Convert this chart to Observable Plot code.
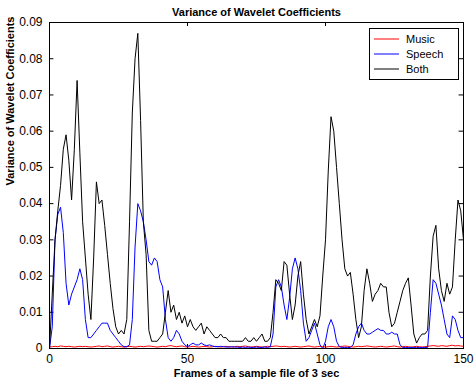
<!DOCTYPE html>
<html>
<head>
<meta charset="utf-8">
<script src="https://cdn.jsdelivr.net/npm/d3@7"></script>
<script src="https://cdn.jsdelivr.net/npm/@observablehq/plot@0.6"></script>
<style>
  html, body { margin: 0; padding: 0; background: #fff; }
  #wrap { position: relative; width: 474px; height: 392px; font-family: "Liberation Sans", Arial, sans-serif; }
  #legend { position: absolute; left: 369px; top: 28px; width: 88px; height: 50px; border: 1px solid #000; background: #fff; }
  #legend svg { display: block; }
</style>
</head>
<body>
<div id="wrap"></div>
<script>
const title = "Variance of Wavelet Coefficients";
const xLabel = "Frames of a sample file of 3 sec";
const yLabel = "Variance of Wavelet Coefficients";
const seriesNames = ["Music", "Speech", "Both"];
const seriesColors = ["#ff0000", "#0000ff", "#000000"];
const xTicks = [0, 50, 100, 150];
const yTicks = [0, 0.01, 0.02, 0.03, 0.04, 0.05, 0.06, 0.07, 0.08, 0.09];

const both = [
  0.000, 0.015, 0.030, 0.038, 0.045, 0.055, 0.059, 0.052, 0.041, 0.055,
  0.074, 0.054, 0.035, 0.025, 0.015, 0.008, 0.025, 0.046, 0.040, 0.041,
  0.034, 0.026, 0.018, 0.011, 0.006, 0.004, 0.005, 0.004, 0.008, 0.035,
  0.065, 0.080, 0.087, 0.063, 0.035, 0.026, 0.005, 0.002, 0.002, 0.002,
  0.003, 0.004, 0.010, 0.016, 0.010, 0.012, 0.008, 0.010, 0.007, 0.009,
  0.006, 0.008, 0.006, 0.005, 0.006, 0.007, 0.004, 0.006, 0.005, 0.004,
  0.003, 0.003, 0.004, 0.003, 0.003, 0.002, 0.002, 0.002, 0.002, 0.002,
  0.002, 0.003, 0.002, 0.002, 0.003, 0.002, 0.003, 0.004, 0.002, 0.002,
  0.003, 0.010, 0.019, 0.018, 0.016, 0.024, 0.023, 0.015, 0.008, 0.012,
  0.020, 0.024, 0.015, 0.008, 0.004, 0.006, 0.008, 0.006, 0.009, 0.020,
  0.030, 0.049, 0.064, 0.060, 0.050, 0.040, 0.030, 0.022, 0.020, 0.021,
  0.015, 0.008, 0.003, 0.006, 0.016, 0.022, 0.018, 0.013, 0.015, 0.016,
  0.018, 0.017, 0.017, 0.010, 0.006, 0.007, 0.010, 0.013, 0.016, 0.018,
  0.0195, 0.012, 0.004, 0.0015, 0.003, 0.004, 0.004, 0.005, 0.020, 0.031,
  0.034, 0.022, 0.016, 0.013, 0.018, 0.015, 0.017, 0.030, 0.041, 0.038,
  0.030
];

const speech = [
  0.000, 0.006, 0.030, 0.037, 0.039, 0.032, 0.018, 0.012, 0.015, 0.017,
  0.019, 0.022, 0.019, 0.008, 0.003, 0.003, 0.004, 0.005, 0.006, 0.007,
  0.007, 0.007, 0.005, 0.004, 0.003, 0.002, 0.001, 0.0005, 0.0005, 0.001,
  0.008, 0.028, 0.040, 0.038, 0.035, 0.030, 0.024, 0.023, 0.025, 0.024,
  0.019, 0.017, 0.008, 0.003, 0.002, 0.003, 0.005, 0.004, 0.002, 0.001,
  0.0005, 0.001, 0.0015, 0.001, 0.001, 0.0015, 0.001, 0.0008, 0.001, 0.0007,
  0.0005, 0.0005, 0.0006, 0.0005, 0.0004, 0.0004, 0.0005, 0.0004, 0.0004, 0.0003,
  0.0004, 0.0003, 0.0004, 0.0003, 0.0003, 0.0004, 0.0003, 0.0003, 0.0004, 0.0003,
  0.0005, 0.004, 0.017, 0.019, 0.017, 0.012, 0.008, 0.014, 0.022, 0.025,
  0.022, 0.016, 0.007, 0.002, 0.003, 0.005, 0.007, 0.004, 0.001, 0.000,
  0.002, 0.006, 0.008, 0.006, 0.002, 0.0005, 0.0003, 0.0003, 0.0003, 0.0003,
  0.001, 0.004, 0.006, 0.007, 0.005, 0.004, 0.004, 0.0045, 0.005, 0.0055,
  0.005, 0.005, 0.004, 0.004, 0.0045, 0.004, 0.004, 0.001, 0.0003, 0.0003,
  0.0003, 0.0003, 0.0003, 0.0003, 0.0003, 0.0003, 0.0003, 0.0003, 0.010, 0.019,
  0.018, 0.015, 0.012, 0.008, 0.004, 0.003, 0.009, 0.008, 0.005, 0.003,
  0.003
];

const music = [
  0.0004, 0.0005, 0.0006, 0.0005, 0.0007, 0.0006, 0.0005, 0.0006, 0.0005, 0.0004,
  0.0005, 0.0006, 0.0005, 0.0006, 0.0005, 0.0004, 0.0005, 0.0006, 0.0007, 0.0005,
  0.0006, 0.0007, 0.0005, 0.0004, 0.0005, 0.0006, 0.0005, 0.0004, 0.0005, 0.0006,
  0.0005, 0.0004, 0.0005, 0.0006, 0.0005, 0.0006, 0.0007, 0.0006, 0.0005, 0.0004,
  0.0005, 0.0006, 0.0005, 0.0007, 0.0008, 0.0006, 0.0005, 0.0006, 0.0007, 0.0005,
  0.0004, 0.0005, 0.0006, 0.0005, 0.0004, 0.0005, 0.0006, 0.0005, 0.0004, 0.0005,
  0.0006, 0.0005, 0.0004, 0.0005, 0.0006, 0.0005, 0.0004, 0.0005, 0.0006, 0.0005,
  0.0006, 0.0007, 0.0005, 0.0004, 0.0005, 0.0006, 0.0005, 0.0004, 0.0005, 0.0006,
  0.0005, 0.0006, 0.0007, 0.0006, 0.0005, 0.0006, 0.0005, 0.0004, 0.0005, 0.0006,
  0.0005, 0.0004, 0.0005, 0.0006, 0.0007, 0.0005, 0.0004, 0.0005, 0.0006, 0.0005,
  0.0004, 0.0005, 0.0006, 0.0005, 0.0004, 0.0005, 0.0006, 0.0007, 0.0006, 0.0005,
  0.0004, 0.0005, 0.0006, 0.0005, 0.0006, 0.0007, 0.0006, 0.0005, 0.0004, 0.0005,
  0.0006, 0.0005, 0.0004, 0.0005, 0.0006, 0.0007, 0.0005, 0.0004, 0.0005, 0.0006,
  0.0005, 0.0004, 0.0005, 0.0006, 0.0005, 0.0004, 0.0005, 0.0006, 0.0007, 0.0008,
  0.0007, 0.0006, 0.0008, 0.0007, 0.0006, 0.0008, 0.0009, 0.0007, 0.0008, 0.0007,
  0.0006
];

const seriesValues = [music, speech, both];
const rows = [];
seriesValues.forEach((vals, si) => {
  vals.forEach((v, i) => rows.push({ frame: i, value: v, series: seriesNames[si] }));
});

const fmtY = d => d === 0 ? "0" : d.toFixed(2);

const chart = Plot.plot({
  width: 474,
  height: 392,
  marginLeft: 49,
  marginRight: 11,
  marginTop: 22,
  marginBottom: 44,
  style: { fontFamily: "'Liberation Sans', Arial, sans-serif", fontSize: "12px", color: "#000", background: "#fff" },
  x: { domain: [0, 150] },
  y: { domain: [0, 0.09] },
  color: { domain: seriesNames, range: seriesColors },
  marks: [
    Plot.axisX({ ticks: xTicks, tickSize: 0, tickPadding: 6, label: null, fontSize: 12 }),
    Plot.axisY({ ticks: yTicks, tickSize: 0, tickPadding: 7, tickFormat: fmtY, label: null, fontSize: 12 }),
    Plot.ruleX(xTicks, { y1: 0, y2: 0.0011, stroke: "#000" }),
    Plot.ruleX(xTicks, { y1: 0.0889, y2: 0.09, stroke: "#000" }),
    Plot.ruleY(yTicks, { x1: 0, x2: 1.6, stroke: "#000" }),
    Plot.ruleY(yTicks, { x1: 148.4, x2: 150, stroke: "#000" }),
    Plot.line(rows, { x: "frame", y: "value", z: "series", stroke: "series", strokeWidth: 1 }),
    Plot.frame({ stroke: "#000" }),
    Plot.text([title], { text: d => d, frameAnchor: "top", dy: -14, fontWeight: "bold", fontSize: 11 }),
    Plot.text([xLabel], { text: d => d, frameAnchor: "bottom", dy: 28, fontWeight: "bold", fontSize: 11 }),
    Plot.text([yLabel], { text: d => d, frameAnchor: "left", dx: -39, rotate: -90, fontWeight: "bold", fontSize: 11 })
  ]
});

const wrap = document.getElementById("wrap");
wrap.appendChild(chart);

const legend = document.createElement("div");
legend.id = "legend";
const ns = "http://www.w3.org/2000/svg";
const lsvg = document.createElementNS(ns, "svg");
lsvg.setAttribute("width", 88);
lsvg.setAttribute("height", 50);
seriesNames.forEach((name, i) => {
  const yy = 10 + i * 15;
  const ln = document.createElementNS(ns, "line");
  ln.setAttribute("x1", 4); ln.setAttribute("x2", 29);
  ln.setAttribute("y1", yy); ln.setAttribute("y2", yy);
  ln.setAttribute("stroke", seriesColors[i]);
  ln.setAttribute("stroke-width", 1);
  lsvg.appendChild(ln);
  const tx = document.createElementNS(ns, "text");
  tx.setAttribute("x", 36); tx.setAttribute("y", yy);
  tx.setAttribute("dy", "0.35em");
  tx.setAttribute("font-size", 11);
  tx.setAttribute("font-family", "'Liberation Sans', Arial, sans-serif");
  tx.textContent = name;
  lsvg.appendChild(tx);
});
legend.appendChild(lsvg);
wrap.appendChild(legend);
</script>
</body>
</html>
